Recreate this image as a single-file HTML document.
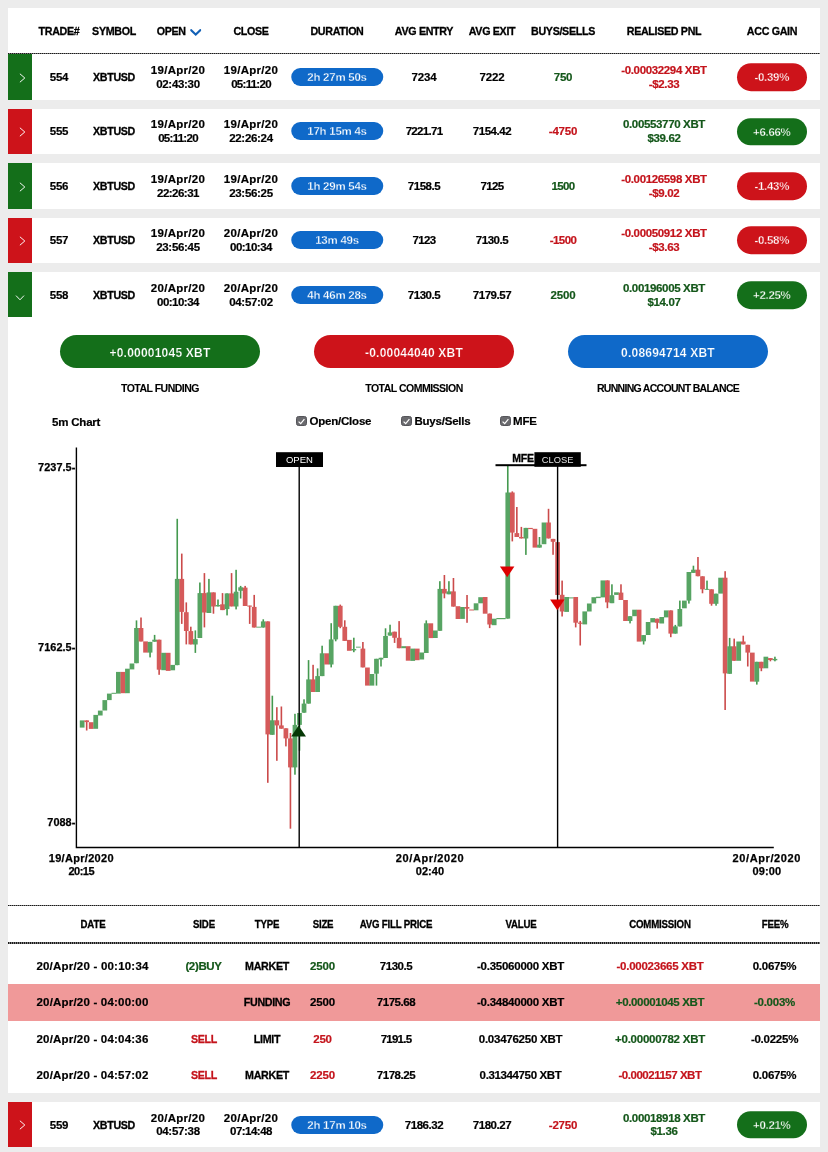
<!DOCTYPE html>
<html><head><meta charset="utf-8"><title>Trades</title>
<style>
html,body{margin:0;padding:0}
body{width:828px;height:1152px;background:#ececec;position:relative;overflow:hidden;font-family:"Liberation Sans",sans-serif;font-weight:bold;color:#000;font-size:11.5px;letter-spacing:-0.35px;-webkit-text-stroke:0.2px}
.abs{position:absolute}
.white{position:absolute;left:8px;width:812px;background:#fff}
.hdr{position:absolute;left:8px;top:8px;width:812px;height:47px;background:#fff}
.dots{position:absolute;left:8px;width:812px;height:1.7px;background:repeating-linear-gradient(90deg,#1a1a1a 0 1px,#7c7c7c 1px 2px)}
.row{position:absolute;left:8px;width:812px;height:45.4px;background:#fff}
.c{position:absolute;top:calc(50% + 1px);transform:translate(-50%,-50%);white-space:nowrap;text-align:center;line-height:13.8px;margin-left:-8px}
.hdr .c{top:23.7px}
.fhdr .c{top:calc(50% + 0.4px)}
.cap,.hdr .c,.fhdr .c{transform:translate(-50%,-50%) scaleX(.93);-webkit-text-stroke:0.3px}
.num{letter-spacing:-0.2px}
.dt{letter-spacing:0.2px}
.v{letter-spacing:-0.25px}
.l1{letter-spacing:0.3px}
.l2{letter-spacing:-0.3px}
.strip{position:absolute;left:0;top:0;width:24px;height:100%;display:flex;align-items:center;justify-content:center}
.gbg{background:#146f1a}
.rbg{background:#cd131a}
.gt{color:#14571a}
.gain.gbg{-webkit-text-stroke:0.3px #146f1a}
.gain.rbg{-webkit-text-stroke:0.3px #cd131a}
.rt{color:#c4141c}
.dur{position:relative;top:-1px;display:inline-block;width:91.5px;height:18px;line-height:18px;border-radius:9px;background:#0f69c9;color:#fff;font-size:11.5px;-webkit-text-stroke:0.3px #0f69c9;letter-spacing:-0.25px}
.gain{position:relative;top:-0.8px;display:inline-block;width:70px;height:27.6px;line-height:28px;border-radius:14px;color:#fff;font-size:11.5px;letter-spacing:-0.3px}
.pill{position:absolute;top:335px;width:200px;height:33.4px;line-height:36px;border-radius:17px;color:#fff;text-align:center;font-size:12px;letter-spacing:0.22px;-webkit-text-stroke:0}
.plabel{position:absolute;top:381.3px;width:300px;text-align:center;line-height:14px;font-size:10.5px;letter-spacing:-0.5px;-webkit-text-stroke:0.1px}
.cb{position:absolute;top:415.5px;width:10.8px;height:10.8px;border-radius:2.5px;background:#6a6a6e;border:1px solid #55555a;box-sizing:border-box}
.cbl{position:absolute;top:414.1px;line-height:14px;font-size:11.5px;letter-spacing:-0.2px}
.frow{position:absolute;left:8px;width:812px;height:36.6px}
.fhdr{position:absolute;left:8px;top:905px;width:812px;height:38.6px}
.fhdr .c{font-size:10.4px;letter-spacing:-0.2px}
</style></head><body>

<div class="hdr">
<div class="c " style="left:59px">TRADE#</div>
<div class="c " style="left:114px">SYMBOL</div>
<div class="c " style="left:179px">OPEN <svg width="12" height="7" viewBox="0 0 12 7" style="vertical-align:-1.5px;margin-left:2px"><path d="M1 1 L6 5.5 L11 1" fill="none" stroke="#1361b6" stroke-width="2.1" stroke-linecap="round"/></svg></div>
<div class="c " style="left:251px">CLOSE</div>
<div class="c " style="left:337px">DURATION</div>
<div class="c " style="left:424px">AVG ENTRY</div>
<div class="c " style="left:492px">AVG EXIT</div>
<div class="c " style="left:563px">BUYS/SELLS</div>
<div class="c " style="left:664px">REALISED PNL</div>
<div class="c " style="left:771.75px">ACC GAIN</div>
</div>
<div class="dots" style="top:53.2px"></div>
<div class="white" style="top:317px;height:775.6px"></div>
<div class="row" style="top:54.3px">
<div class="strip gbg"><svg width="8" height="12" viewBox="0 0 8 12" style="position:absolute;left:11px;top:calc(50% - 5.3px)"><path d="M0.9 1.8 L5.8 6 L0.9 10.2" fill="none" stroke="#fff" stroke-width="0.95"/></svg></div>
<div class="c num" style="left:59px">554</div>
<div class="c cap" style="left:114px">XBTUSD</div>
<div class="c two" style="left:178px"><span class="l1">19/Apr/20</span><br><span class="l2">02:43:30</span></div>
<div class="c two" style="left:251px"><span class="l1">19/Apr/20</span><br><span class="l2" style="letter-spacing:-0.72px">05:11:20</span></div>
<div class="c " style="left:337px"><span class="dur">2h 27m 50s</span></div>
<div class="c num" style="left:424px">7234</div>
<div class="c num" style="left:492px">7222</div>
<div class="c num gt" style="left:563px">750</div>
<div class="c two rt" style="left:664px">-0.00032294 XBT<br>-$2.33</div>
<div class="c " style="left:771.75px"><span class="gain rbg">-0.39%</span></div>
</div>
<div class="row" style="top:108.7px">
<div class="strip rbg"><svg width="8" height="12" viewBox="0 0 8 12" style="position:absolute;left:11px;top:calc(50% - 5.3px)"><path d="M0.9 1.8 L5.8 6 L0.9 10.2" fill="none" stroke="#fff" stroke-width="0.95"/></svg></div>
<div class="c num" style="left:59px">555</div>
<div class="c cap" style="left:114px">XBTUSD</div>
<div class="c two" style="left:178px"><span class="l1">19/Apr/20</span><br><span class="l2" style="letter-spacing:-0.72px">05:11:20</span></div>
<div class="c two" style="left:251px"><span class="l1">19/Apr/20</span><br><span class="l2">22:26:24</span></div>
<div class="c " style="left:337px"><span class="dur">17h 15m 4s</span></div>
<div class="c num" style="left:424px;letter-spacing:-0.69px">7221.71</div>
<div class="c num" style="left:492px;letter-spacing:-0.44px">7154.42</div>
<div class="c num rt" style="left:563px">-4750</div>
<div class="c two gt" style="left:664px">0.00553770 XBT<br>$39.62</div>
<div class="c " style="left:771.75px"><span class="gain gbg">+6.66%</span></div>
</div>
<div class="row" style="top:163.15px">
<div class="strip gbg"><svg width="8" height="12" viewBox="0 0 8 12" style="position:absolute;left:11px;top:calc(50% - 5.3px)"><path d="M0.9 1.8 L5.8 6 L0.9 10.2" fill="none" stroke="#fff" stroke-width="0.95"/></svg></div>
<div class="c num" style="left:59px">556</div>
<div class="c cap" style="left:114px">XBTUSD</div>
<div class="c two" style="left:178px"><span class="l1">19/Apr/20</span><br><span class="l2" style="letter-spacing:-0.51px">22:26:31</span></div>
<div class="c two" style="left:251px"><span class="l1">19/Apr/20</span><br><span class="l2">23:56:25</span></div>
<div class="c " style="left:337px"><span class="dur">1h 29m 54s</span></div>
<div class="c num" style="left:424px;letter-spacing:-0.48px">7158.5</div>
<div class="c num" style="left:492px;letter-spacing:-0.62px">7125</div>
<div class="c num gt" style="left:563px;letter-spacing:-0.62px">1500</div>
<div class="c two rt" style="left:664px">-0.00126598 XBT<br>-$9.02</div>
<div class="c " style="left:771.75px"><span class="gain rbg">-1.43%</span></div>
</div>
<div class="row" style="top:217.6px">
<div class="strip rbg"><svg width="8" height="12" viewBox="0 0 8 12" style="position:absolute;left:11px;top:calc(50% - 5.3px)"><path d="M0.9 1.8 L5.8 6 L0.9 10.2" fill="none" stroke="#fff" stroke-width="0.95"/></svg></div>
<div class="c num" style="left:59px">557</div>
<div class="c cap" style="left:114px">XBTUSD</div>
<div class="c two" style="left:178px"><span class="l1">19/Apr/20</span><br><span class="l2">23:56:45</span></div>
<div class="c two" style="left:251px"><span class="l1">20/Apr/20</span><br><span class="l2" style="letter-spacing:-0.51px">00:10:34</span></div>
<div class="c " style="left:337px"><span class="dur">13m 49s</span></div>
<div class="c num" style="left:424px;letter-spacing:-0.62px">7123</div>
<div class="c num" style="left:492px;letter-spacing:-0.48px">7130.5</div>
<div class="c num rt" style="left:563px;letter-spacing:-0.54px">-1500</div>
<div class="c two rt" style="left:664px">-0.00050912 XBT<br>-$3.63</div>
<div class="c " style="left:771.75px"><span class="gain rbg">-0.58%</span></div>
</div>
<div class="row" style="top:272.05px">
<div class="strip gbg"><svg width="12" height="8" viewBox="0 0 12 8" style="position:absolute;left:6.3px;top:calc(50% - 0.9px)"><path d="M2 1.6 L6 5.8 L10 1.6" fill="none" stroke="#fff" stroke-width="0.95"/></svg></div>
<div class="c num" style="left:59px">558</div>
<div class="c cap" style="left:114px">XBTUSD</div>
<div class="c two" style="left:178px"><span class="l1">20/Apr/20</span><br><span class="l2" style="letter-spacing:-0.51px">00:10:34</span></div>
<div class="c two" style="left:251px"><span class="l1">20/Apr/20</span><br><span class="l2">04:57:02</span></div>
<div class="c " style="left:337px"><span class="dur">4h 46m 28s</span></div>
<div class="c num" style="left:424px;letter-spacing:-0.48px">7130.5</div>
<div class="c num" style="left:492px;letter-spacing:-0.44px">7179.57</div>
<div class="c num gt" style="left:563px">2500</div>
<div class="c two gt" style="left:664px">0.00196005 XBT<br>$14.07</div>
<div class="c " style="left:771.75px"><span class="gain gbg">+2.25%</span></div>
</div>
<div class="pill gbg" style="left:60px;-webkit-text-stroke:0.2px #146f1a">+0.00001045 XBT</div>
<div class="pill rbg" style="left:314px;-webkit-text-stroke:0.2px #cd131a">-0.00044040 XBT</div>
<div class="pill" style="left:568px;background:#0f69c9;-webkit-text-stroke:0.2px #0f69c9">0.08694714 XBT</div>
<div class="plabel" style="left:10px">TOTAL FUNDING</div>
<div class="plabel" style="left:264px">TOTAL COMMISSION</div>
<div class="plabel" style="left:518px;letter-spacing:-0.7px">RUNNING ACCOUNT BALANCE</div>
<div class="cbl" style="left:52px;top:415px">5m Chart</div>
<div class="cb" style="left:296.2px"><svg width="11" height="11" viewBox="0 0 11 11" style="position:absolute;left:-1px;top:-1px"><path d="M2.6 5.6 L4.7 7.7 L8.4 3.1" fill="none" stroke="#fff" stroke-width="1.2"/></svg></div><div class="cbl" style="left:309.4px">Open/Close</div>
<div class="cb" style="left:401.2px"><svg width="11" height="11" viewBox="0 0 11 11" style="position:absolute;left:-1px;top:-1px"><path d="M2.6 5.6 L4.7 7.7 L8.4 3.1" fill="none" stroke="#fff" stroke-width="1.2"/></svg></div><div class="cbl" style="left:414.4px">Buys/Sells</div>
<div class="cb" style="left:499.9px"><svg width="11" height="11" viewBox="0 0 11 11" style="position:absolute;left:-1px;top:-1px"><path d="M2.6 5.6 L4.7 7.7 L8.4 3.1" fill="none" stroke="#fff" stroke-width="1.2"/></svg></div><div class="cbl" style="left:513.1px">MFE</div>
<svg class="abs" style="left:0;top:430px" width="828" height="460" viewBox="0 430 828 460">
<rect x="85.88" y="720.4" width="1.6" height="10.1" fill="#cb4a4a"/>
<rect x="135.69" y="620.4" width="1.6" height="42.8" fill="#44994f"/>
<rect x="140.21" y="617.5" width="1.6" height="23.9" fill="#cb4a4a"/>
<rect x="149.27" y="641.9" width="1.6" height="15.5" fill="#44994f"/>
<rect x="153.80" y="634.9" width="1.6" height="6.8" fill="#44994f"/>
<rect x="158.33" y="639.7" width="1.6" height="35.1" fill="#cb4a4a"/>
<rect x="176.44" y="518.8" width="1.6" height="146.4" fill="#44994f"/>
<rect x="180.97" y="553.6" width="1.6" height="70.3" fill="#cb4a4a"/>
<rect x="185.49" y="602.4" width="1.6" height="42.0" fill="#cb4a4a"/>
<rect x="190.02" y="626.7" width="1.6" height="17.7" fill="#cb4a4a"/>
<rect x="194.55" y="630.4" width="1.6" height="22.5" fill="#44994f"/>
<rect x="199.08" y="582.5" width="1.6" height="55.5" fill="#44994f"/>
<rect x="203.61" y="573.1" width="1.6" height="54.3" fill="#cb4a4a"/>
<rect x="208.13" y="578.9" width="1.6" height="34.1" fill="#44994f"/>
<rect x="212.66" y="592.4" width="1.6" height="21.3" fill="#cb4a4a"/>
<rect x="217.19" y="599.5" width="1.6" height="7.0" fill="#44994f"/>
<rect x="221.72" y="593.1" width="1.6" height="17.0" fill="#cb4a4a"/>
<rect x="226.25" y="593.4" width="1.6" height="22.0" fill="#44994f"/>
<rect x="230.77" y="573.1" width="1.6" height="33.3" fill="#cb4a4a"/>
<rect x="235.30" y="569.8" width="1.6" height="39.6" fill="#44994f"/>
<rect x="239.83" y="585.9" width="1.6" height="12.6" fill="#44994f"/>
<rect x="244.36" y="585.9" width="1.6" height="20.1" fill="#cb4a4a"/>
<rect x="248.89" y="605.6" width="1.6" height="18.3" fill="#cb4a4a"/>
<rect x="253.41" y="594.9" width="1.6" height="32.6" fill="#cb4a4a"/>
<rect x="262.47" y="619.3" width="1.6" height="8.3" fill="#44994f"/>
<rect x="267.00" y="621.4" width="1.6" height="161.4" fill="#cb4a4a"/>
<rect x="271.53" y="695.7" width="1.6" height="39.1" fill="#44994f"/>
<rect x="276.05" y="707.2" width="1.6" height="53.6" fill="#cb4a4a"/>
<rect x="280.58" y="706.5" width="1.6" height="22.2" fill="#cb4a4a"/>
<rect x="285.11" y="728.3" width="1.6" height="18.1" fill="#cb4a4a"/>
<rect x="289.64" y="733.0" width="1.6" height="95.7" fill="#cb4a4a"/>
<rect x="294.17" y="713.8" width="1.6" height="60.9" fill="#44994f"/>
<rect x="298.69" y="713.0" width="1.6" height="37.7" fill="#44994f"/>
<rect x="303.22" y="699.3" width="1.6" height="13.5" fill="#44994f"/>
<rect x="307.75" y="660.1" width="1.6" height="43.5" fill="#44994f"/>
<rect x="312.28" y="664.8" width="1.6" height="27.2" fill="#cb4a4a"/>
<rect x="316.81" y="668.4" width="1.6" height="23.6" fill="#44994f"/>
<rect x="321.33" y="645.7" width="1.6" height="30.4" fill="#44994f"/>
<rect x="330.39" y="623.2" width="1.6" height="44.2" fill="#44994f"/>
<rect x="334.92" y="605.8" width="1.6" height="35.5" fill="#44994f"/>
<rect x="339.45" y="604.6" width="1.6" height="23.6" fill="#cb4a4a"/>
<rect x="343.97" y="620.3" width="1.6" height="20.6" fill="#cb4a4a"/>
<rect x="353.03" y="637.7" width="1.6" height="14.5" fill="#44994f"/>
<rect x="362.09" y="642.0" width="1.6" height="25.4" fill="#cb4a4a"/>
<rect x="375.67" y="658.8" width="1.6" height="26.8" fill="#44994f"/>
<rect x="380.20" y="657.8" width="1.6" height="8.7" fill="#44994f"/>
<rect x="384.73" y="628.3" width="1.6" height="29.7" fill="#44994f"/>
<rect x="389.25" y="624.7" width="1.6" height="10.9" fill="#44994f"/>
<rect x="393.78" y="631.7" width="1.6" height="11.2" fill="#cb4a4a"/>
<rect x="398.31" y="621.1" width="1.6" height="27.1" fill="#cb4a4a"/>
<rect x="425.48" y="620.4" width="1.6" height="32.6" fill="#44994f"/>
<rect x="439.06" y="581.2" width="1.6" height="49.6" fill="#44994f"/>
<rect x="443.59" y="575.0" width="1.6" height="23.3" fill="#cb4a4a"/>
<rect x="448.12" y="581.2" width="1.6" height="13.0" fill="#44994f"/>
<rect x="452.65" y="578.0" width="1.6" height="28.6" fill="#cb4a4a"/>
<rect x="466.23" y="595.0" width="1.6" height="27.8" fill="#cb4a4a"/>
<rect x="488.87" y="613.6" width="1.6" height="14.5" fill="#cb4a4a"/>
<rect x="506.98" y="466.0" width="1.6" height="152.6" fill="#44994f"/>
<rect x="511.51" y="491.4" width="1.6" height="50.0" fill="#cb4a4a"/>
<rect x="516.04" y="507.0" width="1.6" height="30.0" fill="#cb4a4a"/>
<rect x="520.57" y="526.9" width="1.6" height="11.6" fill="#cb4a4a"/>
<rect x="525.09" y="527.9" width="1.6" height="27.0" fill="#44994f"/>
<rect x="538.68" y="537.0" width="1.6" height="10.6" fill="#44994f"/>
<rect x="547.73" y="508.8" width="1.6" height="29.7" fill="#cb4a4a"/>
<rect x="552.26" y="538.9" width="1.6" height="15.9" fill="#cb4a4a"/>
<rect x="561.32" y="580.6" width="1.6" height="35.9" fill="#cb4a4a"/>
<rect x="574.90" y="597.0" width="1.6" height="30.4" fill="#cb4a4a"/>
<rect x="579.43" y="620.9" width="1.6" height="24.6" fill="#cb4a4a"/>
<rect x="606.60" y="580.4" width="1.6" height="27.8" fill="#cb4a4a"/>
<rect x="611.13" y="584.3" width="1.6" height="18.8" fill="#44994f"/>
<rect x="620.18" y="584.3" width="1.6" height="15.7" fill="#cb4a4a"/>
<rect x="629.24" y="616.2" width="1.6" height="7.2" fill="#44994f"/>
<rect x="642.82" y="635.1" width="1.6" height="9.4" fill="#44994f"/>
<rect x="656.41" y="618.7" width="1.6" height="9.9" fill="#cb4a4a"/>
<rect x="669.99" y="610.4" width="1.6" height="26.8" fill="#cb4a4a"/>
<rect x="674.52" y="624.9" width="1.6" height="8.7" fill="#44994f"/>
<rect x="679.05" y="600.6" width="1.6" height="25.8" fill="#44994f"/>
<rect x="688.10" y="572.0" width="1.6" height="31.6" fill="#44994f"/>
<rect x="692.63" y="565.7" width="1.6" height="7.2" fill="#44994f"/>
<rect x="697.16" y="557.0" width="1.6" height="19.3" fill="#cb4a4a"/>
<rect x="701.69" y="576.3" width="1.6" height="17.0" fill="#cb4a4a"/>
<rect x="706.21" y="580.6" width="1.6" height="9.0" fill="#44994f"/>
<rect x="710.74" y="589.3" width="1.6" height="16.4" fill="#cb4a4a"/>
<rect x="715.27" y="593.7" width="1.6" height="12.0" fill="#44994f"/>
<rect x="724.33" y="571.2" width="1.6" height="138.8" fill="#cb4a4a"/>
<rect x="728.85" y="637.9" width="1.6" height="35.9" fill="#44994f"/>
<rect x="733.38" y="638.6" width="1.6" height="22.2" fill="#cb4a4a"/>
<rect x="742.44" y="635.7" width="1.6" height="8.7" fill="#cb4a4a"/>
<rect x="746.97" y="644.8" width="1.6" height="21.7" fill="#cb4a4a"/>
<rect x="756.02" y="661.8" width="1.6" height="22.8" fill="#44994f"/>
<rect x="760.55" y="661.8" width="1.6" height="9.4" fill="#cb4a4a"/>
<rect x="769.61" y="658.1" width="1.6" height="3.2" fill="#cb4a4a"/>
<rect x="774.13" y="656.7" width="1.6" height="4.6" fill="#44994f"/>
<rect x="79.79" y="720.4" width="4.73" height="7.2" fill="#57a463"/>
<rect x="84.31" y="720.4" width="4.73" height="1.7" fill="#d55a5a"/>
<rect x="88.84" y="722.2" width="4.73" height="6.7" fill="#d55a5a"/>
<rect x="93.37" y="714.9" width="4.73" height="13.9" fill="#57a463"/>
<rect x="97.90" y="710.6" width="4.73" height="4.9" fill="#57a463"/>
<rect x="102.43" y="700.1" width="4.73" height="10.4" fill="#57a463"/>
<rect x="106.95" y="693.6" width="4.73" height="6.5" fill="#57a463"/>
<rect x="111.48" y="692.8" width="4.73" height="1.0" fill="#57a463"/>
<rect x="116.01" y="671.9" width="4.73" height="21.7" fill="#57a463"/>
<rect x="120.54" y="671.9" width="4.73" height="21.3" fill="#d55a5a"/>
<rect x="125.07" y="668.7" width="4.73" height="24.5" fill="#57a463"/>
<rect x="129.59" y="663.5" width="4.73" height="5.9" fill="#57a463"/>
<rect x="134.12" y="628.0" width="4.73" height="35.2" fill="#57a463"/>
<rect x="138.65" y="628.0" width="4.73" height="13.5" fill="#d55a5a"/>
<rect x="143.18" y="641.4" width="4.73" height="11.2" fill="#d55a5a"/>
<rect x="147.71" y="641.9" width="4.73" height="10.7" fill="#57a463"/>
<rect x="152.23" y="639.7" width="4.73" height="2.0" fill="#57a463"/>
<rect x="156.76" y="639.7" width="4.73" height="30.0" fill="#d55a5a"/>
<rect x="161.29" y="652.8" width="4.73" height="17.4" fill="#57a463"/>
<rect x="165.82" y="652.8" width="4.73" height="18.1" fill="#d55a5a"/>
<rect x="170.35" y="664.9" width="4.73" height="5.4" fill="#57a463"/>
<rect x="174.87" y="578.9" width="4.73" height="86.2" fill="#57a463"/>
<rect x="179.40" y="578.9" width="4.73" height="33.0" fill="#d55a5a"/>
<rect x="183.93" y="612.2" width="4.73" height="18.8" fill="#d55a5a"/>
<rect x="188.46" y="631.1" width="4.73" height="13.3" fill="#d55a5a"/>
<rect x="192.99" y="639.1" width="4.73" height="5.4" fill="#57a463"/>
<rect x="197.51" y="593.1" width="4.73" height="44.9" fill="#57a463"/>
<rect x="202.04" y="593.1" width="4.73" height="19.4" fill="#d55a5a"/>
<rect x="206.57" y="592.4" width="4.73" height="20.6" fill="#57a463"/>
<rect x="211.10" y="592.4" width="4.73" height="14.1" fill="#d55a5a"/>
<rect x="215.63" y="605.0" width="4.73" height="1.4" fill="#57a463"/>
<rect x="220.15" y="604.3" width="4.73" height="5.8" fill="#d55a5a"/>
<rect x="224.68" y="593.4" width="4.73" height="15.7" fill="#57a463"/>
<rect x="229.21" y="593.4" width="4.73" height="13.0" fill="#d55a5a"/>
<rect x="233.74" y="591.7" width="4.73" height="14.8" fill="#57a463"/>
<rect x="238.27" y="587.3" width="4.73" height="3.5" fill="#57a463"/>
<rect x="242.79" y="587.6" width="4.73" height="18.4" fill="#d55a5a"/>
<rect x="247.32" y="605.6" width="4.73" height="1.0" fill="#d55a5a"/>
<rect x="251.85" y="606.9" width="4.73" height="20.6" fill="#d55a5a"/>
<rect x="256.38" y="626.7" width="4.73" height="0.9" fill="#57a463"/>
<rect x="260.91" y="621.4" width="4.73" height="6.1" fill="#57a463"/>
<rect x="265.43" y="621.4" width="4.73" height="113.0" fill="#d55a5a"/>
<rect x="269.96" y="720.3" width="4.73" height="14.5" fill="#57a463"/>
<rect x="274.49" y="720.3" width="4.73" height="5.1" fill="#d55a5a"/>
<rect x="279.02" y="725.4" width="4.73" height="3.3" fill="#d55a5a"/>
<rect x="283.55" y="728.3" width="4.73" height="10.1" fill="#d55a5a"/>
<rect x="288.07" y="738.4" width="4.73" height="29.0" fill="#d55a5a"/>
<rect x="292.60" y="724.9" width="4.73" height="42.5" fill="#57a463"/>
<rect x="297.13" y="713.0" width="4.73" height="11.9" fill="#57a463"/>
<rect x="301.66" y="703.6" width="4.73" height="9.1" fill="#57a463"/>
<rect x="306.19" y="679.4" width="4.73" height="24.2" fill="#57a463"/>
<rect x="310.71" y="679.4" width="4.73" height="12.6" fill="#d55a5a"/>
<rect x="315.24" y="676.1" width="4.73" height="15.9" fill="#57a463"/>
<rect x="319.77" y="653.3" width="4.73" height="22.8" fill="#57a463"/>
<rect x="324.30" y="653.3" width="4.73" height="11.2" fill="#d55a5a"/>
<rect x="328.83" y="639.4" width="4.73" height="25.1" fill="#57a463"/>
<rect x="333.35" y="605.8" width="4.73" height="33.6" fill="#57a463"/>
<rect x="337.88" y="605.8" width="4.73" height="21.0" fill="#d55a5a"/>
<rect x="342.41" y="626.8" width="4.73" height="14.1" fill="#d55a5a"/>
<rect x="346.94" y="639.9" width="4.73" height="10.9" fill="#d55a5a"/>
<rect x="351.47" y="649.0" width="4.73" height="1.4" fill="#57a463"/>
<rect x="355.99" y="646.7" width="4.73" height="0.9" fill="#57a463"/>
<rect x="360.52" y="648.6" width="4.73" height="18.8" fill="#d55a5a"/>
<rect x="365.05" y="667.5" width="4.73" height="18.1" fill="#d55a5a"/>
<rect x="369.58" y="674.0" width="4.73" height="11.6" fill="#57a463"/>
<rect x="374.11" y="658.8" width="4.73" height="14.9" fill="#57a463"/>
<rect x="378.63" y="657.8" width="4.73" height="1.7" fill="#57a463"/>
<rect x="383.16" y="636.0" width="4.73" height="22.0" fill="#57a463"/>
<rect x="387.69" y="632.4" width="4.73" height="3.2" fill="#57a463"/>
<rect x="392.22" y="631.7" width="4.73" height="6.1" fill="#d55a5a"/>
<rect x="396.75" y="637.8" width="4.73" height="10.4" fill="#d55a5a"/>
<rect x="401.27" y="646.2" width="4.73" height="2.0" fill="#57a463"/>
<rect x="405.80" y="646.2" width="4.73" height="14.5" fill="#d55a5a"/>
<rect x="410.33" y="648.6" width="4.73" height="12.3" fill="#57a463"/>
<rect x="414.86" y="648.6" width="4.73" height="11.6" fill="#d55a5a"/>
<rect x="419.39" y="652.5" width="4.73" height="7.0" fill="#57a463"/>
<rect x="423.91" y="623.3" width="4.73" height="29.7" fill="#57a463"/>
<rect x="428.44" y="623.3" width="4.73" height="14.8" fill="#d55a5a"/>
<rect x="432.97" y="630.5" width="4.73" height="7.5" fill="#57a463"/>
<rect x="437.50" y="588.9" width="4.73" height="41.9" fill="#57a463"/>
<rect x="442.03" y="588.9" width="4.73" height="4.6" fill="#d55a5a"/>
<rect x="446.55" y="591.4" width="4.73" height="2.9" fill="#57a463"/>
<rect x="451.08" y="591.4" width="4.73" height="15.2" fill="#d55a5a"/>
<rect x="455.61" y="606.2" width="4.73" height="12.8" fill="#d55a5a"/>
<rect x="460.14" y="607.0" width="4.73" height="11.9" fill="#57a463"/>
<rect x="464.67" y="607.0" width="4.73" height="1.7" fill="#d55a5a"/>
<rect x="469.19" y="609.5" width="4.73" height="1.0" fill="#d55a5a"/>
<rect x="473.72" y="603.3" width="4.73" height="7.0" fill="#57a463"/>
<rect x="478.25" y="597.2" width="4.73" height="6.1" fill="#57a463"/>
<rect x="482.78" y="597.0" width="4.73" height="16.7" fill="#d55a5a"/>
<rect x="487.31" y="613.6" width="4.73" height="10.9" fill="#d55a5a"/>
<rect x="491.83" y="618.7" width="4.73" height="6.5" fill="#57a463"/>
<rect x="496.36" y="618.0" width="4.73" height="1.2" fill="#57a463"/>
<rect x="500.89" y="618.0" width="4.73" height="1.2" fill="#57a463"/>
<rect x="505.42" y="492.5" width="4.73" height="126.1" fill="#57a463"/>
<rect x="509.95" y="492.5" width="4.73" height="40.1" fill="#d55a5a"/>
<rect x="514.47" y="533.1" width="4.73" height="3.9" fill="#d55a5a"/>
<rect x="519.00" y="537.0" width="4.73" height="1.4" fill="#d55a5a"/>
<rect x="523.53" y="527.9" width="4.73" height="10.6" fill="#57a463"/>
<rect x="528.06" y="527.9" width="4.73" height="1.2" fill="#d55a5a"/>
<rect x="532.59" y="528.8" width="4.73" height="18.8" fill="#d55a5a"/>
<rect x="537.11" y="544.7" width="4.73" height="2.9" fill="#57a463"/>
<rect x="541.64" y="522.5" width="4.73" height="21.7" fill="#57a463"/>
<rect x="546.17" y="522.5" width="4.73" height="15.9" fill="#d55a5a"/>
<rect x="550.70" y="538.9" width="4.73" height="2.9" fill="#d55a5a"/>
<rect x="555.23" y="542.1" width="4.73" height="52.9" fill="#d55a5a"/>
<rect x="559.75" y="594.8" width="4.73" height="16.7" fill="#d55a5a"/>
<rect x="564.28" y="597.0" width="4.73" height="14.9" fill="#57a463"/>
<rect x="568.81" y="597.4" width="4.73" height="1.0" fill="#57a463"/>
<rect x="573.34" y="597.0" width="4.73" height="25.7" fill="#d55a5a"/>
<rect x="577.87" y="622.6" width="4.73" height="1.2" fill="#d55a5a"/>
<rect x="582.39" y="611.4" width="4.73" height="13.0" fill="#57a463"/>
<rect x="586.92" y="603.5" width="4.73" height="8.0" fill="#57a463"/>
<rect x="591.45" y="597.2" width="4.73" height="6.2" fill="#57a463"/>
<rect x="595.98" y="596.7" width="4.73" height="1.4" fill="#57a463"/>
<rect x="600.51" y="580.4" width="4.73" height="17.0" fill="#57a463"/>
<rect x="605.03" y="580.4" width="4.73" height="22.0" fill="#d55a5a"/>
<rect x="609.56" y="595.2" width="4.73" height="8.0" fill="#57a463"/>
<rect x="614.09" y="592.3" width="4.73" height="2.6" fill="#57a463"/>
<rect x="618.62" y="592.6" width="4.73" height="7.4" fill="#d55a5a"/>
<rect x="623.15" y="600.0" width="4.73" height="21.0" fill="#d55a5a"/>
<rect x="627.67" y="616.2" width="4.73" height="4.8" fill="#57a463"/>
<rect x="632.20" y="609.7" width="4.73" height="6.5" fill="#57a463"/>
<rect x="636.73" y="609.7" width="4.73" height="31.9" fill="#d55a5a"/>
<rect x="641.26" y="635.1" width="4.73" height="6.2" fill="#57a463"/>
<rect x="645.79" y="622.0" width="4.73" height="13.0" fill="#57a463"/>
<rect x="650.31" y="618.1" width="4.73" height="4.3" fill="#57a463"/>
<rect x="654.84" y="618.7" width="4.73" height="4.1" fill="#d55a5a"/>
<rect x="659.37" y="617.0" width="4.73" height="6.5" fill="#57a463"/>
<rect x="663.90" y="610.4" width="4.73" height="7.0" fill="#57a463"/>
<rect x="668.43" y="610.4" width="4.73" height="23.2" fill="#d55a5a"/>
<rect x="672.95" y="626.4" width="4.73" height="7.2" fill="#57a463"/>
<rect x="677.48" y="609.0" width="4.73" height="17.4" fill="#57a463"/>
<rect x="682.01" y="600.6" width="4.73" height="7.7" fill="#57a463"/>
<rect x="686.54" y="572.0" width="4.73" height="28.6" fill="#57a463"/>
<rect x="691.07" y="569.7" width="4.73" height="3.2" fill="#57a463"/>
<rect x="695.59" y="569.7" width="4.73" height="6.5" fill="#d55a5a"/>
<rect x="700.12" y="576.3" width="4.73" height="13.0" fill="#d55a5a"/>
<rect x="704.65" y="588.9" width="4.73" height="0.9" fill="#57a463"/>
<rect x="709.18" y="589.3" width="4.73" height="14.5" fill="#d55a5a"/>
<rect x="713.71" y="593.7" width="4.73" height="10.1" fill="#57a463"/>
<rect x="718.23" y="577.7" width="4.73" height="15.9" fill="#57a463"/>
<rect x="722.76" y="577.7" width="4.73" height="95.7" fill="#d55a5a"/>
<rect x="727.29" y="646.3" width="4.73" height="27.5" fill="#57a463"/>
<rect x="731.82" y="646.3" width="4.73" height="14.5" fill="#d55a5a"/>
<rect x="736.35" y="641.5" width="4.73" height="19.3" fill="#57a463"/>
<rect x="740.87" y="641.5" width="4.73" height="2.9" fill="#d55a5a"/>
<rect x="745.40" y="644.8" width="4.73" height="7.8" fill="#d55a5a"/>
<rect x="749.93" y="652.6" width="4.73" height="29.0" fill="#d55a5a"/>
<rect x="754.46" y="661.8" width="4.73" height="19.9" fill="#57a463"/>
<rect x="758.99" y="661.8" width="4.73" height="6.5" fill="#d55a5a"/>
<rect x="763.51" y="656.7" width="4.73" height="11.6" fill="#57a463"/>
<rect x="768.04" y="658.1" width="4.73" height="1.9" fill="#d55a5a"/>
<rect x="772.57" y="658.9" width="4.73" height="1.4" fill="#57a463"/>
<path d="M76.4 447.5 V847.5 H773.8" fill="none" stroke="#000" stroke-width="1.4"/>
<rect x="298.5" y="466" width="1.4" height="381" fill="#000"/>
<rect x="556.9" y="466" width="1.4" height="381" fill="#000"/>
<rect x="495.5" y="464.2" width="91" height="2" fill="#000"/>
<rect x="276" y="452.2" width="47" height="14.8" fill="#000"/>
<text x="299.4" y="463.3" text-anchor="middle" fill="#fff" font-size="9.5" font-weight="normal" letter-spacing="0">OPEN</text>
<text x="523" y="461.8" text-anchor="middle" fill="#000" font-size="10.5" font-weight="bold" letter-spacing="-0.2" stroke="#000" stroke-width="0.3">MFE</text>
<rect x="534.4" y="452.2" width="46.4" height="14.6" fill="#000"/>
<text x="557.6" y="463.3" text-anchor="middle" fill="#e4e4e4" font-size="9.3" font-weight="normal" letter-spacing="0">CLOSE</text>
<path d="M298.6 725.6 L306 736.6 H291.2 Z" fill="#063806"/>
<path d="M499.9 566.6 H514.4 L507.2 577.2 Z" fill="#dd0000"/>
<path d="M550.1 599.4 H564.6 L557.3 610.2 Z" fill="#dd0000"/>
<text x="75.4" y="470.6" text-anchor="end" font-size="10.9" font-weight="bold" letter-spacing="0.05" stroke="#000" stroke-width="0.25">7237.5-</text>
<text x="75.4" y="651.0999999999999" text-anchor="end" font-size="10.9" font-weight="bold" letter-spacing="0.05" stroke="#000" stroke-width="0.25">7162.5-</text>
<text x="75.4" y="826.4" text-anchor="end" font-size="10.9" font-weight="bold" letter-spacing="0.05" stroke="#000" stroke-width="0.25">7088-</text>
<text x="81.3" y="862.2" text-anchor="middle" font-size="11" font-weight="bold" letter-spacing="0.3" stroke="#000" stroke-width="0.25">19/Apr/2020</text>
<text x="81.3" y="875.1" text-anchor="middle" font-size="11" font-weight="bold" letter-spacing="-0.5" stroke="#000" stroke-width="0.25">20:15</text>
<text x="430" y="862.2" text-anchor="middle" font-size="11" font-weight="bold" letter-spacing="0.6" stroke="#000" stroke-width="0.25">20/Apr/2020</text>
<text x="430" y="875.1" text-anchor="middle" font-size="11" font-weight="bold" letter-spacing="0.1" stroke="#000" stroke-width="0.25">02:40</text>
<text x="766.8" y="862.2" text-anchor="middle" font-size="11" font-weight="bold" letter-spacing="0.6" stroke="#000" stroke-width="0.25">20/Apr/2020</text>
<text x="766.8" y="875.1" text-anchor="middle" font-size="11" font-weight="bold" letter-spacing="0.1" stroke="#000" stroke-width="0.25">09:00</text>
</svg>
<div class="dots" style="top:904.8px"></div><div class="dots" style="top:942px"></div>
<div class="fhdr">
<div class="c " style="left:92.5px">DATE</div>
<div class="c " style="left:203.5px">SIDE</div>
<div class="c " style="left:267px">TYPE</div>
<div class="c " style="left:322.5px">SIZE</div>
<div class="c " style="left:396px">AVG FILL PRICE</div>
<div class="c " style="left:520.5px">VALUE</div>
<div class="c " style="left:660px">COMMISSION</div>
<div class="c " style="left:774.5px">FEE%</div>
</div>
<div class="frow" style="top:948px;">
<div class="c dt" style="left:92.5px;letter-spacing:0.21px">20/Apr/20 - 00:10:34</div>
<div class="c gt" style="left:203.5px">(2)BUY</div>
<div class="c cap" style="left:267px">MARKET</div>
<div class="c num gt" style="left:322.5px">2500</div>
<div class="c num" style="left:396px;letter-spacing:-0.48px">7130.5</div>
<div class="c v" style="left:520.5px">-0.35060000 XBT</div>
<div class="c v rt" style="left:660px">-0.00023665 XBT</div>
<div class="c v" style="left:774.5px">0.0675%</div>
</div>
<div class="frow" style="top:984px;background:#f09999;">
<div class="c dt" style="left:92.5px">20/Apr/20 - 04:00:00</div>
<div class="c cap" style="left:267px">FUNDING</div>
<div class="c num" style="left:322.5px">2500</div>
<div class="c num" style="left:396px;letter-spacing:-0.44px">7175.68</div>
<div class="c v" style="left:520.5px">-0.34840000 XBT</div>
<div class="c v gt" style="left:660px;letter-spacing:-0.36px">+0.00001045 XBT</div>
<div class="c v gt" style="left:774.5px">-0.003%</div>
</div>
<div class="frow" style="top:1020.9000000000001px;">
<div class="c dt" style="left:92.5px">20/Apr/20 - 04:04:36</div>
<div class="c cap rt" style="left:203.5px">SELL</div>
<div class="c cap" style="left:267px">LIMIT</div>
<div class="c num rt" style="left:322.5px">250</div>
<div class="c num" style="left:396px;letter-spacing:-0.77px">7191.5</div>
<div class="c v" style="left:520.5px">0.03476250 XBT</div>
<div class="c v gt" style="left:660px">+0.00000782 XBT</div>
<div class="c v" style="left:774.5px">-0.0225%</div>
</div>
<div class="frow" style="top:1057px;">
<div class="c dt" style="left:92.5px">20/Apr/20 - 04:57:02</div>
<div class="c cap rt" style="left:203.5px">SELL</div>
<div class="c cap" style="left:267px">MARKET</div>
<div class="c num rt" style="left:322.5px">2250</div>
<div class="c num" style="left:396px;letter-spacing:-0.44px">7178.25</div>
<div class="c v" style="left:520.5px;letter-spacing:-0.37px">0.31344750 XBT</div>
<div class="c v rt" style="left:660px;letter-spacing:-0.48px">-0.00021157 XBT</div>
<div class="c v" style="left:774.5px">0.0675%</div>
</div>
<div class="row" style="top:1102px">
<div class="strip rbg"><svg width="8" height="12" viewBox="0 0 8 12" style="position:absolute;left:11px;top:calc(50% - 5.3px)"><path d="M0.9 1.8 L5.8 6 L0.9 10.2" fill="none" stroke="#fff" stroke-width="0.95"/></svg></div>
<div class="c num" style="left:59px">559</div>
<div class="c cap" style="left:114px">XBTUSD</div>
<div class="c two" style="left:178px"><span class="l1">20/Apr/20</span><br><span class="l2">04:57:38</span></div>
<div class="c two" style="left:251px"><span class="l1">20/Apr/20</span><br><span class="l2" style="letter-spacing:-0.51px">07:14:48</span></div>
<div class="c " style="left:337px"><span class="dur">2h 17m 10s</span></div>
<div class="c num" style="left:424px;letter-spacing:-0.44px">7186.32</div>
<div class="c num" style="left:492px;letter-spacing:-0.44px">7180.27</div>
<div class="c num rt" style="left:563px">-2750</div>
<div class="c two gt" style="left:664px">0.00018918 XBT<br>$1.36</div>
<div class="c " style="left:771.75px"><span class="gain gbg">+0.21%</span></div>
</div>
</body></html>
